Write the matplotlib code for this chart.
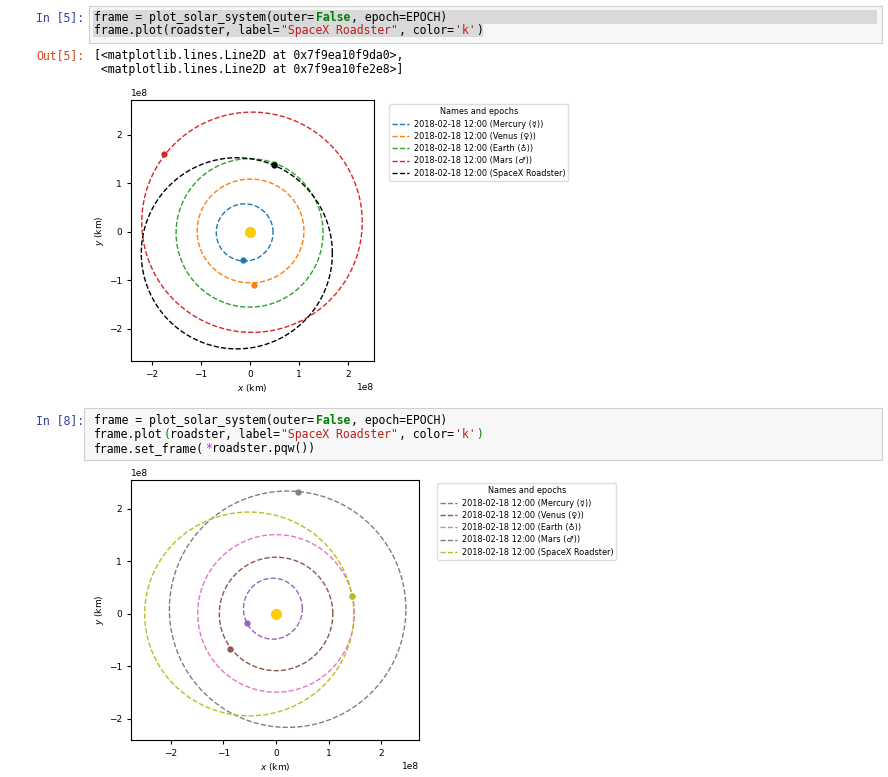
import numpy as np
import matplotlib
matplotlib.use("Agg")
import matplotlib.pyplot as plt
from matplotlib.patches import Rectangle

W, H = 888, 777
labels = ["2018-02-18 12:00 (Mercury (☿))", "2018-02-18 12:00 (Venus (♀))",
          "2018-02-18 12:00 (Earth (♁))", "2018-02-18 12:00 (Mars (♂))",
          "2018-02-18 12:00 (SpaceX Roadster)"]
# Frame 1 orbits (units of 1e8 km): center x, center y, semi-axis x, semi-axis y
f1_cx = [-0.11, 0.01, -0.01, 0.04, -0.27]
f1_cy = [-0.01, 0.02, -0.02, 0.20, -0.44]
f1_ax = [0.58, 1.09, 1.50, 2.25, 1.95]
f1_ay = [0.59, 1.07, 1.53, 2.27, 1.97]
f1_px = [-0.14, 0.08, 0.48, -1.75, 0.48]
f1_py = [-0.58, -1.09, 1.40, 1.60, 1.38]
f1_colors = ["tab:blue", "tab:orange", "tab:green", "tab:red", "k"]
# Frame 2 orbits
f2_cx = [-0.06, 0.00, 0.00, 0.22, -0.51]
f2_cy = [0.10, 0.00, 0.01, 0.09, 0.00]
f2_ax = [0.56, 1.08, 1.49, 2.25, 1.99]
f2_ay = [0.58, 1.08, 1.50, 2.25, 1.94]
f2_px = [-0.55, -0.87, 1.45, 0.41, 1.44]
f2_py = [-0.17, -0.66, 0.35, 2.32, 0.35]
f2_colors = ["tab:purple", "tab:brown", "tab:pink", "tab:gray", "tab:olive"]

fig = plt.figure(figsize=(W / 100, H / 100), dpi=100)
fig.patch.set_facecolor("white")

def fx(x): return x / W
def fy(y): return 1 - y / H

CW = 6.94
MONO = "DejaVu Sans Mono"

def code_line(x, y, segs):
    for txt, col, bold in segs:
        fig.text(fx(x), fy(y + 4), txt, color=col, family=MONO, fontsize=8.3,
                 fontweight="bold" if bold else "normal", va="baseline", ha="left")
        x += CW * len(txt)

def box(x0, y0, x1, y1, fc, ec):
    fig.patches.append(Rectangle((fx(x0), fy(y1)), fx(x1) - fx(x0), fy(y0) - fy(y1),
                                 transform=fig.transFigure, fc=fc, ec=ec, lw=0.8))

K, G, R, P = "black", "#008000", "#BA2121", "#AA22FF"
# Cell 1
box(89, 6, 882, 43, "#f7f7f7", "#cfcfcf")
box(93, 10, 877, 24, "#d9d9d9", "none")
box(93, 24, 483, 37, "#d9d9d9", "none")
code_line(36, 17, [("In [5]:", "#303F9F", False)])
code_line(94, 17, [("frame = plot_solar_system(outer=", K, False), ("False", G, True), (", epoch=EPOCH)", K, False)])
code_line(94, 30, [("frame.plot(roadster, label=", K, False), ('"SpaceX Roadster"', R, False),
                   (", color=", K, False), ("'k'", R, False), (")", K, False)])
code_line(36, 55, [("Out[5]:", "#D84315", False)])
code_line(94, 55, [("[<matplotlib.lines.Line2D at 0x7f9ea10f9da0>,", K, False)])
code_line(94, 69, [(" <matplotlib.lines.Line2D at 0x7f9ea10fe2e8>]", K, False)])
# Cell 2
box(84, 408, 882, 460, "#f7f7f7", "#cfcfcf")
code_line(36, 420, [("In [8]:", "#303F9F", False)])
code_line(94, 420, [("frame = plot_solar_system(outer=", K, False), ("False", G, True), (", epoch=EPOCH)", K, False)])
code_line(94, 434, [("frame.plot", K, False), ("(", G, False), ("roadster, label=", K, False), ('"SpaceX Roadster"', R, False),
                    (", color=", K, False), ("'k'", R, False), (")", G, False)])
code_line(94, 448, [("frame.set_frame(", K, False), ("*", P, False), ("roadster.pqw())", K, False)])

t = np.linspace(0, 2 * np.pi, 400)

def draw(rect, cx, cy, ax_, ay_, px, py, colors, xlim, ylim, leg_xy):
    ax = fig.add_axes(rect)
    handles = []
    for i in range(len(cx)):
        ln, = ax.plot((cx[i] + ax_[i] * np.cos(t)) * 1e8, (cy[i] + ay_[i] * np.sin(t)) * 1e8,
                      "--", color=colors[i], lw=1, label=labels[i])
        ax.plot(px[i] * 1e8, py[i] * 1e8, "o", color=colors[i], ms=3.5)
        handles.append(ln)
    ax.plot(0, 0, "o", color="#ffcc00", ms=7)
    ax.set_xlim(xlim[0] * 1e8, xlim[1] * 1e8)
    ax.set_ylim(ylim[0] * 1e8, ylim[1] * 1e8)
    ax.ticklabel_format(style="sci", scilimits=(0, 0))
    ax.tick_params(labelsize=6.5, length=3)
    ax.xaxis.get_offset_text().set_fontsize(6.5)
    ax.yaxis.get_offset_text().set_fontsize(6.5)
    ax.set_xlabel("$x$ (km)", fontsize=6.5, labelpad=2)
    ax.set_ylabel("$y$ (km)", fontsize=6.5, labelpad=2)
    fig.legend(handles=handles, loc="upper left", bbox_to_anchor=(fx(leg_xy[0]), fy(leg_xy[1])),
               borderaxespad=0, title="Names and epochs", fontsize=5.9, title_fontsize=5.9,
               handlelength=2.0, handletextpad=0.6, labelspacing=0.4, framealpha=1, edgecolor="#dddddd")
    return ax

draw([fx(131), fy(361), fx(374) - fx(131), fy(100) - fy(361)],
     f1_cx, f1_cy, f1_ax, f1_ay, f1_px, f1_py, f1_colors, (-2.43, 2.53), (-2.66, 2.72), (389, 104))
draw([fx(131), fy(740), fx(419) - fx(131), fy(480) - fy(740)],
     f2_cx, f2_cy, f2_ax, f2_ay, f2_px, f2_py, f2_colors, (-2.76, 2.72), (-2.40, 2.55), (437, 483))

fig.savefig("out.png", dpi=100)
